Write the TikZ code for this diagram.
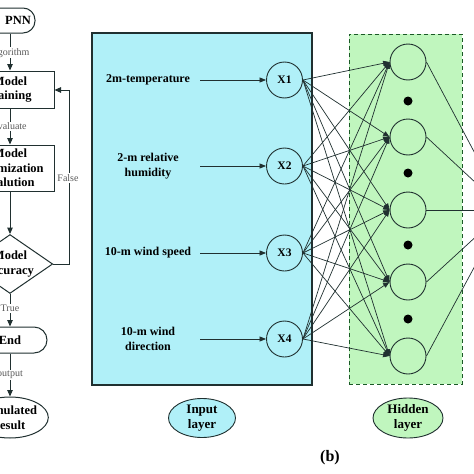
\documentclass[tikz,border=0pt]{standalone}
\usepackage{fontspec}
\setmainfont{Liberation Serif}
\usetikzlibrary{arrows.meta,shapes.geometric}
\definecolor{incyan}{RGB}{176,240,248}
\definecolor{hgreen}{RGB}{192,246,190}
\definecolor{linec}{RGB}{32,48,48}
\definecolor{lblgray}{RGB}{90,90,90}
\begin{document}
\begin{tikzpicture}[x=1pt,y=-1pt,
  every node/.style={text=black},
  inbox/.style={draw=linec,line width=1.1pt,fill=incyan,inner sep=0pt},
  hidbox/.style={draw=linec!80!green,line width=0.9pt,dash pattern=on 4pt off 3pt,fill=hgreen,inner sep=0pt},
  xnode/.style={circle,draw=linec,line width=0.9pt,fill=incyan,minimum size=36pt,inner sep=0pt,font=\fontsize{11.5}{13}\selectfont\bfseries},
  hnode/.style={circle,draw=linec,line width=0.9pt,fill=hgreen,minimum size=36pt,inner sep=0pt},
  dotnode/.style={circle,fill=black,minimum size=9pt,inner sep=0pt},
  inlabel/.style={align=center,font=\fontsize{12}{15}\selectfont\bfseries},
  layerlbl/.style={ellipse,draw=linec,line width=0.9pt,align=center,inner sep=0pt,font=\fontsize{13}{15}\selectfont\bfseries},
  arr/.style={draw=linec,line width=0.8pt,-{Triangle[length=6.5pt,width=5pt]}},
  conn/.style={draw=linec,line width=0.7pt,-{Triangle[length=6.5pt,width=5pt]}},
  outl/.style={draw=linec,line width=0.7pt},
  fbox/.style={draw=linec,line width=1pt,fill=white,align=center,inner sep=0pt,font=\fontsize{12.5}{14.5}\selectfont\bfseries},
  farr/.style={draw=linec,line width=1pt,-{Triangle[length=6.5pt,width=5.5pt]}},
  flbl/.style={fill=white,inner sep=1pt,text=lblgray,font=\fontsize{10}{12}\selectfont}
]
\useasboundingbox (0,0) rectangle (474,474);
\clip (0,0) rectangle (474,474);
\fill[white] (0,0) rectangle (474,474);

% ---------- flowchart (a) ----------
\node[fbox,rounded corners=12pt,minimum width=50pt,minimum height=25pt] (pnn) at (10,20.5) {};
\node[font=\fontsize{12.5}{14}\selectfont\bfseries] (pnnt) at (18,20.5) {PNN};
\node[fbox,minimum width=88pt,minimum height=37pt] (train) at (10,89.5) {Model\\training};
\node[fbox,minimum width=88pt,minimum height=46pt] (opt) at (10,168) {Model\\optimization\\evalution};
\node[fbox,diamond,aspect=1.45,minimum width=84pt,minimum height=58pt] (acc) at (10,264) {Model\\accuracy};
\node[fbox,rounded corners=13pt,minimum width=74pt,minimum height=26pt] (endn) at (10,340) {End};
\node[fbox,ellipse,minimum width=70pt,minimum height=41pt] (sim) at (10,417.5) {Simulated\\result};

\draw[farr] (pnn.south) -- (train.north) node[flbl,pos=0.52] {algorithm};
\draw[farr] (train.south) -- (opt.north) node[flbl,pos=0.5] {evaluate};
\draw[farr] (opt.south) -- (acc.north);
\draw[farr] (acc.south) -- (endn.north) node[flbl,pos=0.45] {True};
\draw[farr] (endn.south) -- (sim.north) node[flbl,pos=0.5] {output};
\coordinate (fr1) at (69,264);
\coordinate (fr2) at (69,90);
\draw[farr] (acc.east) -- (fr1) -- (fr2) -- (train.east|-fr2);
\node[flbl] (false) at (68,178) {False};

% ---------- (b) ----------
\node[inbox,minimum width=220pt,minimum height=352pt] (ibox) at (202,209) {};
\node[hidbox,minimum width=113pt,minimum height=350pt] (hbox) at (405.5,209) {};

\node[xnode] (x1) at (284.5,80) {X1};
\node[xnode] (x2) at (284.5,166) {X2};
\node[xnode] (x3) at (284.5,253) {X3};
\node[xnode] (x4) at (284.5,339) {X4};

\node[inlabel] (l1) at (148,80) {2m-temperature};
\node[inlabel] (l2) at (148,166) {2-m relative\\humidity};
\node[inlabel] (l3) at (148,253) {10-m wind speed};
\node[inlabel] (l4) at (148,339) {10-m wind\\direction};

\coordinate (a1) at (200,80);
\coordinate (a2) at (200,166);
\coordinate (a3) at (200,253);
\coordinate (a4) at (200,339);
\foreach \i in {1,...,4} {\draw[arr] (a\i) -- (x\i.west);}

\node[hnode] (h1) at (408,62) {};
\node[hnode] (h2) at (408,137) {};
\node[hnode] (h3) at (408,210) {};
\node[hnode] (h4) at (408,282) {};
\node[hnode] (h5) at (408,356) {};
\node[dotnode] (d1) at (408,101) {};
\node[dotnode] (d2) at (408,173) {};
\node[dotnode] (d3) at (408,245) {};
\node[dotnode] (d4) at (408,319) {};

\foreach \i in {1,...,4} {
  \foreach \j in {1,...,5} {
    \draw[conn] (x\i.east) -- (h\j.west);
  }
}

\coordinate (out) at (505,210);
\foreach \j in {1,...,5} {\draw[outl] (h\j.east) -- (out);}

\node[layerlbl,fill=incyan,minimum width=67pt,minimum height=39pt] (inl) at (202,418) {Input\\layer};
\node[layerlbl,fill=hgreen,minimum width=70pt,minimum height=40pt] (hidl) at (408,418) {Hidden\\layer};
\node[font=\fontsize{16}{18}\selectfont\bfseries] (blbl) at (330,458) {(b)};
\end{tikzpicture}
\end{document}
